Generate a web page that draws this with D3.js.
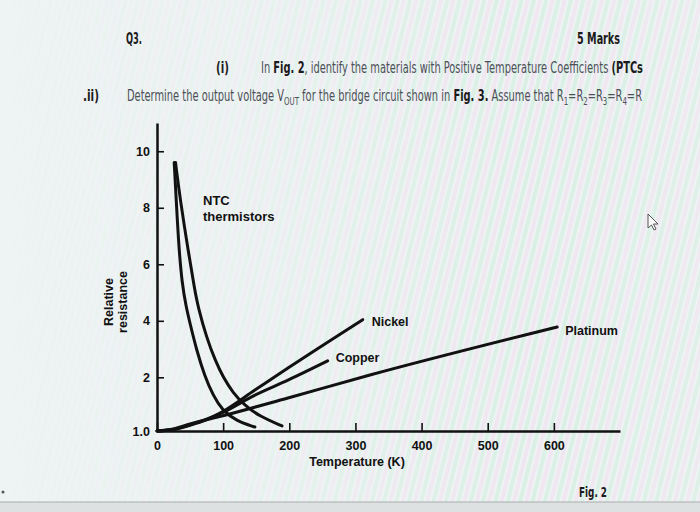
<!DOCTYPE html>
<html>
<head>
<meta charset="utf-8">
<script src="https://cdn.jsdelivr.net/npm/d3@7"></script>
<style>
body { margin: 0; background: #eef3f2; }
svg { display: block; }
</style>
</head>
<body>
<div id="playground"></div>
<script>
// --- Data
var xTicks = [0, 100, 200, 300, 400, 500, 600]
var yTicks = [0.1, 2, 4, 6, 8, 10]
var yTickLabels = ['1.0', '2', '4', '6', '8', '10']

// [temperature K, relative resistance] in axis units
var ntcA = [[26, 9.6], [29, 8.3], [33, 6.6], [38, 5.3], [44, 4.5], [50, 3.9], [60, 2.95], [72, 2.05], [85, 1.35], [98, 0.86], [120, 0.45], [148, 0.24]]
var ntcB = [[28, 9.6], [35, 8.3], [47, 6.5], [57, 5.1], [62, 4.5], [75, 3.4], [88, 2.6], [100, 2.0], [115, 1.45], [132, 1.02], [155, 0.62], [189, 0.28]]
var nickel = [[0, 0.1], [25, 0.15], [50, 0.3], [75, 0.5], [98, 0.77], [148, 1.55], [198, 2.33], [311, 4.04]]
var copper = [[0, 0.1], [25, 0.16], [50, 0.32], [75, 0.52], [98, 0.74], [148, 1.37], [198, 1.9], [258, 2.58]]
var platinum = [[0, 0.1], [25, 0.17], [50, 0.35], [98, 0.63], [198, 1.27], [322, 2.08], [605, 3.78]]

var metalNames = ['Nickel', 'Copper', 'Platinum']
var metalSeries = [nickel, copper, platinum]

// --- Settings
var settings = {}
settings.width = 700
settings.height = 512
settings.chart_font = 'Liberation Sans, Arial, Helvetica, sans-serif'
settings.text_font = 'Liberation Sans Narrow, DejaVu Sans Condensed, Arial Narrow, sans-serif'
settings.ink = '#111'

var svg = d3.select('#playground').append('svg')
	.attr('width', settings.width)
	.attr('height', settings.height)

// Background with faint moire stripes
var defs = svg.append('defs')
var pat = defs.append('pattern')
	.attr('id', 'stripes')
	.attr('patternUnits', 'userSpaceOnUse')
	.attr('width', 12).attr('height', 12)
	.attr('patternTransform', 'rotate(14)')
pat.append('rect').attr('width', 4).attr('height', 12).attr('fill', '#cfeedd')
pat.append('rect').attr('x', 6).attr('width', 4).attr('height', 12).attr('fill', '#f1dff0')

var grad = defs.append('linearGradient').attr('id', 'fade')
grad.append('stop').attr('offset', '0').attr('stop-color', '#fff').attr('stop-opacity', 0)
grad.append('stop').attr('offset', '0.35').attr('stop-color', '#fff').attr('stop-opacity', 0.2)
grad.append('stop').attr('offset', '0.75').attr('stop-color', '#fff').attr('stop-opacity', 0.65)
grad.append('stop').attr('offset', '1').attr('stop-color', '#fff').attr('stop-opacity', 0.5)
defs.append('mask').attr('id', 'fadeMask')
	.append('rect').attr('width', settings.width).attr('height', settings.height).attr('fill', 'url(#fade)')

svg.append('rect').attr('width', settings.width).attr('height', settings.height).attr('fill', '#eef3f3')
svg.append('rect').attr('width', settings.width).attr('height', 502)
	.attr('fill', 'url(#stripes)').attr('mask', 'url(#fadeMask)')

// bottom edge of the sheet
svg.append('rect').attr('y', 502).attr('width', settings.width).attr('height', 10).attr('fill', '#dde1e1')
svg.append('line').attr('x1', 0).attr('x2', settings.width).attr('y1', 502).attr('y2', 502)
	.attr('stroke', '#a9adad').attr('stroke-width', 1.2)
svg.append('circle').attr('cx', 3).attr('cy', 492).attr('r', 1.5).attr('fill', '#555')

// --- Question text
function textLine(x, y, len, parts) {
	var t = svg.append('text')
		.attr('x', x).attr('y', y)
		.attr('font-family', settings.text_font)
		.attr('font-size', 15.5)
		.attr('textLength', len)
		.attr('lengthAdjust', 'spacingAndGlyphs')
	parts.forEach(function(p) {
		var ts = t.append('tspan')
			.text(p.t)
			.attr('fill', p.b ? '#1b1b1b' : '#4b5157')
			.attr('font-weight', p.b ? 'bold' : 'normal')
		if (p.sub) ts.attr('font-size', 11).attr('dy', 4)
		if (p.up) ts.attr('dy', -4)
	})
	return t
}

textLine(126, 44, 16, [{t: 'Q3.', b: true}])
textLine(577, 44, 43, [{t: '5 Marks', b: true}])
textLine(216, 73, 13, [{t: '(i)', b: true}])
textLine(261, 73, 382, [
	{t: 'In '}, {t: 'Fig. 2', b: true},
	{t: ', identify the materials with Positive Temperature Coefficients '},
	{t: '(PTCs', b: true}
])
textLine(83, 101, 16, [{t: '.ii)', b: true}])
textLine(127, 101, 515, [
	{t: 'Determine the output voltage V'}, {t: 'OUT', sub: true},
	{t: ' for the bridge circuit shown in  ', up: true}, {t: 'Fig. 3.', b: true},
	{t: ' Assume that R'}, {t: '1', sub: true}, {t: '=R', up: true}, {t: '2', sub: true},
	{t: '=R', up: true}, {t: '3', sub: true}, {t: '=R', up: true}, {t: '4', sub: true},
	{t: '=R', up: true}
])

// --- Chart
var x = d3.scaleLinear().domain([0, 700]).range([157, 620])
var y = d3.scaleLinear().domain([0.1, 11]).range([431, 123])

var ntcLine = d3.line()
	.x(function(d) { return x(d[0]) })
	.y(function(d) { return y(d[1]) })
	.curve(d3.curveBasis)
var metalLine = d3.line()
	.x(function(d) { return x(d[0]) })
	.y(function(d) { return y(d[1]) })
	.curve(d3.curveMonotoneX)

function drawCurve(d) {
	svg.append('path')
		.attr('d', d)
		.attr('fill', 'none')
		.attr('stroke', settings.ink)
		.attr('stroke-width', 3)
		.attr('stroke-linecap', 'round')
}
drawCurve(ntcLine(ntcA))
drawCurve(ntcLine(ntcB))
metalSeries.forEach(function(s) { drawCurve(metalLine(s)) })

// Axes
var xAxis = svg.append('g')
	.attr('transform', 'translate(0,' + y(0.1) + ')')
	.call(d3.axisBottom(x).tickValues(xTicks).tickSize(-8).tickSizeOuter(0).tickPadding(10))
var yAxis = svg.append('g')
	.attr('transform', 'translate(' + x(0) + ',0)')
	.call(d3.axisLeft(y).tickValues(yTicks).tickSize(-7).tickSizeOuter(0).tickPadding(7)
		.tickFormat(function(d, i) { return yTickLabels[i] }))

;[xAxis, yAxis].forEach(function(a) {
	a.select('.domain').attr('stroke', settings.ink).attr('stroke-width', 2.5)
	a.selectAll('.tick line').attr('stroke', settings.ink).attr('stroke-width', 1.6)
	a.selectAll('.tick text')
		.attr('fill', settings.ink)
		.attr('font-family', settings.chart_font)
		.attr('font-weight', 'bold')
		.attr('font-size', 12.5)
})

// Axis titles
svg.append('text')
	.attr('x', 357).attr('y', 466)
	.attr('text-anchor', 'middle')
	.attr('font-family', settings.chart_font).attr('font-weight', 'bold').attr('font-size', 12.5)
	.attr('fill', settings.ink)
	.text('Temperature (K)')
;[['Relative', 113], ['resistance', 127]].forEach(function(l) {
	svg.append('text')
		.attr('transform', 'translate(' + l[1] + ',302) rotate(-90)')
		.attr('text-anchor', 'middle')
		.attr('font-family', settings.chart_font).attr('font-weight', 'bold').attr('font-size', 12.5)
		.attr('fill', settings.ink)
		.text(l[0])
})

// Series labels
svg.append('text')
	.attr('x', 203).attr('y', 205)
	.attr('font-family', settings.chart_font).attr('font-weight', 'bold').attr('font-size', 13)
	.attr('fill', settings.ink)
	.text('NTC')
svg.append('text')
	.attr('x', 203).attr('y', 221)
	.attr('font-family', settings.chart_font).attr('font-weight', 'bold').attr('font-size', 13)
	.attr('fill', settings.ink)
	.text('thermistors')

var labelOffsets = [[9, 6], [8, 1], [8, 8]]
metalSeries.forEach(function(s, i) {
	var end = s[s.length - 1]
	svg.append('text')
		.attr('x', x(end[0]) + labelOffsets[i][0])
		.attr('y', y(end[1]) + labelOffsets[i][1])
		.attr('font-family', settings.chart_font).attr('font-weight', 'bold').attr('font-size', 12.5)
		.attr('fill', settings.ink)
		.text(metalNames[i])
})

// Figure caption
svg.append('text')
	.attr('x', 579).attr('y', 497)
	.attr('font-family', settings.text_font).attr('font-weight', 'bold').attr('font-size', 14)
	.attr('textLength', 28).attr('lengthAdjust', 'spacingAndGlyphs')
	.attr('fill', '#1b1b1b')
	.text('Fig. 2')

// mouse pointer left on the screen
svg.append('path')
	.attr('d', 'M648,214 L648,228 L651.5,225 L654,230 L656,229 L653.5,224 L658,224 Z')
	.attr('fill', '#fafafa').attr('stroke', '#555').attr('stroke-width', 1)
</script>
</body>
</html>
